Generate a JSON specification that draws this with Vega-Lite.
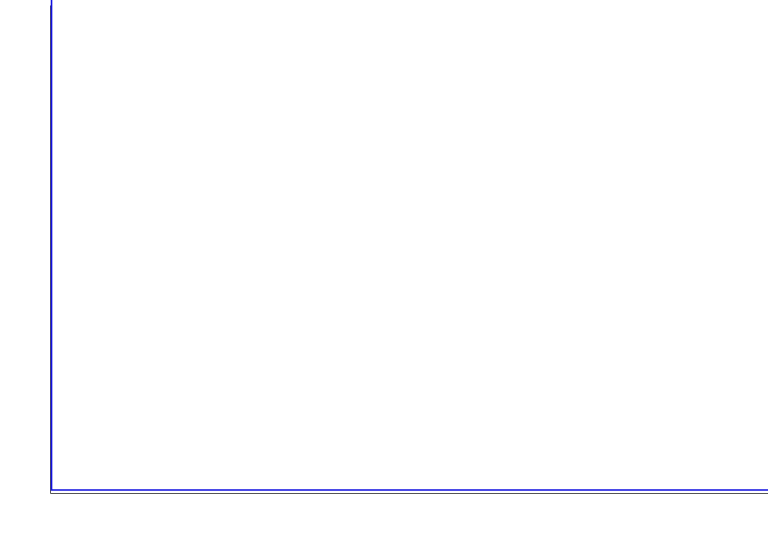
{
  "$schema": "https://vega.github.io/schema/vega-lite/v6.json",
  "autosize": "none",
  "padding": {"left": 50, "top": 5, "right": 0, "bottom": 50},
  "width": 900,
  "height": 488,
  "background": "white",
  "data": {
    "values": [
      {"x": 0.17, "y": 1000},
      {"x": 0.17, "y": 0.6},
      {"x": 100, "y": 0.6}
    ]
  },
  "mark": {
    "type": "line",
    "color": "#1010e0",
    "strokeWidth": 1.6,
    "clip": false
  },
  "encoding": {
    "x": {
      "field": "x",
      "type": "quantitative",
      "scale": {"domain": [0, 100], "nice": false},
      "axis": {"title": null, "labels": false, "ticks": false, "grid": false, "domainColor": "#555555"}
    },
    "y": {
      "field": "y",
      "type": "quantitative",
      "scale": {"domain": [0, 100], "nice": false},
      "axis": {"title": null, "labels": false, "ticks": false, "grid": false, "domainColor": "#555555"}
    }
  },
  "config": {"view": {"stroke": null}}
}
